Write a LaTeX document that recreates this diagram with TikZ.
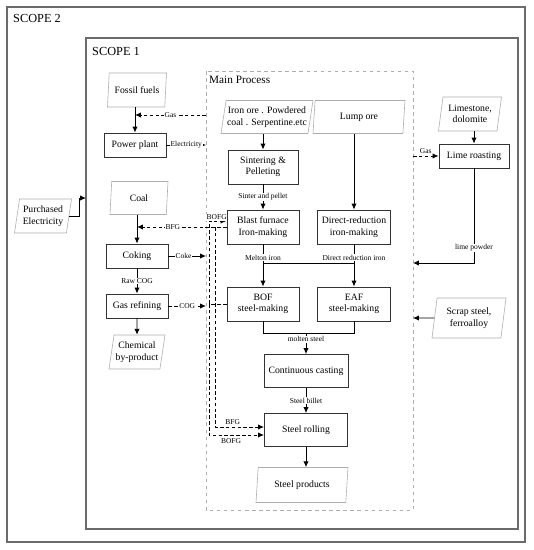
\documentclass[tikz,border=0pt]{standalone}
\usepackage{fontspec}
\setmainfont{Liberation Serif}
\usetikzlibrary{arrows.meta}
\usetikzlibrary{positioning}
\usetikzlibrary{shapes.geometric}
\usetikzlibrary{calc}
\definecolor{sgray}{rgb}{0.42, 0.42, 0.42}
\definecolor{lgray}{rgb}{0.68, 0.68, 0.68}
\definecolor{dgray}{rgb}{0.2, 0.2, 0.2}

\begin{document}
\begin{tikzpicture}[x=0.03cm, y=-0.03cm,
    box/.style={draw=dgray, line width=0.75pt, inner sep=0pt, align=center, font=\fontsize{8.3}{9.8}\selectfont},
    data/.style={trapezium, trapezium left angle=76, trapezium right angle=104, trapezium stretches body,
      draw=lgray, line width=0.5pt, inner sep=0pt, align=center, font=\fontsize{8.3}{9.8}\selectfont},
    lbl/.style={fill=white, inner sep=0.6pt, font=\fontsize{6.4}{7}\selectfont},
    tag/.style={inner sep=1pt, font=\fontsize{6.4}{7}\selectfont},
    flow/.style={line width=0.75pt, -{Latex[length=5pt, width=4.5pt]}},
    gasflow/.style={line width=0.8pt, dash pattern=on 3pt off 2pt, -{Latex[length=5pt, width=4.5pt]}}]
      \useasboundingbox (0, 0) rectangle (534, 550);

      % scopes
      \draw [sgray, line width=1.2pt] (7, 7) rectangle (525, 542);
      \draw [sgray, line width=1.2pt] (86, 38) rectangle (518, 529);
      \draw [lgray, dashed, line width=0.6pt] (206, 71) rectangle (413, 510);
      \node [anchor=west, inner sep=0pt, font=\fontsize{10.5}{12}\selectfont] (scope2) at (13, 18) {SCOPE 2};
      \node [anchor=west, inner sep=0pt, font=\fontsize{10.5}{12}\selectfont] (scope1) at (92, 51) {SCOPE 1};
      \node [anchor=west, inner sep=0pt, font=\fontsize{9.6}{11}\selectfont] (mainlbl) at (209, 80) {Main Process};

      \coordinate (mpW) at (206, 0);
      \coordinate (mpE) at (413, 0);
      \coordinate (busA) at (0, 263);
      \coordinate (busB) at (0, 333);
      \coordinate (bfgX) at (215, 0);
      \coordinate (bofgX) at (209, 0);
      \coordinate (gasA) at (206, 115);
      \coordinate (s1in) at (86, 198);

      % left column
      \node [data, minimum width=1.77cm, minimum height=1.02cm] (fossil) at (137, 90) {Fossil fuels};
      \node [box, minimum width=1.86cm, minimum height=0.72cm] (power) at (135, 145) {Power plant};
      \node [data, minimum width=1.74cm, minimum height=0.99cm] (coal) at (139, 198) {Coal};
      \node [box, minimum width=1.86cm, minimum height=0.72cm] (coking) at (137, 256) {Coking};
      \node [box, minimum width=1.86cm, minimum height=0.72cm] (gasref) at (137, 306) {Gas refining};
      \node [data, minimum width=1.68cm, minimum height=1.02cm] (chem) at (137, 352) {Chemical\\by-product};
      \node [data, minimum width=1.71cm, minimum height=1.02cm] (purch) at (43, 216) {Purchased\\Electricity};

      % main process
      \node [data, minimum width=2.76cm, minimum height=0.99cm] (iron) at (267, 117) {Iron ore . Powdered\\coal . Serpentine.etc};
      \node [data, minimum width=2.76cm, minimum height=0.99cm] (lump) at (359, 117) {Lump ore};
      \node [box, minimum width=2.1cm, minimum height=1.02cm] (sinter) at (263, 167) {Sintering \&\\Pelleting};
      \node [box, minimum width=2.16cm, minimum height=1.02cm] (bf) at (263, 227) {Blast furnace\\Iron-making};
      \node [box, minimum width=2.19cm, minimum height=1.02cm] (dr) at (354, 227) {Direct-reduction\\iron-making};
      \node [box, minimum width=2.16cm, minimum height=1.02cm] (bof) at (263, 304) {BOF\\steel-making};
      \node [box, minimum width=2.19cm, minimum height=1.02cm] (eaf) at (354, 304) {EAF\\steel-making};
      \node [box, minimum width=2.52cm, minimum height=0.99cm] (cast) at (306, 371) {Continuous casting};
      \node [box, minimum width=2.49cm, minimum height=0.99cm] (roll) at (306, 430) {Steel rolling};
      \node [data, minimum width=2.76cm, minimum height=1.05cm] (prod) at (302, 485) {Steel products};

      % right column
      \node [data, minimum width=1.89cm, minimum height=1.02cm] (limestone) at (470, 114) {Limestone,\\dolomite};
      \node [box, minimum width=2.1cm, minimum height=0.72cm] (lime) at (474, 156) {Lime roasting};
      \node [data, minimum width=2.22cm, minimum height=1.2cm] (scrap) at (469, 318) {Scrap steel,\\ferroalloy};

      % left column flows
      \draw [flow] (fossil.south -| power) -- (power);
      \draw [gasflow] (gasA) -- node [lbl] {Gas} (gasA -| power);
      \draw [flow] (power) -- node [lbl] {Electricity} (power -| mpW);
      \draw [flow] (coal.south -| coking) -- (coking);
      \draw [flow] (coking) -- node [lbl, pos=0.4] {Coke} (coking -| mpW);
      \draw [flow] (coking) -- node [lbl] {Raw COG} (gasref);
      \draw [gasflow] (gasref) -- node [lbl] {COG} (gasref -| mpW);
      \draw [flow] (gasref) -- (chem);
      \draw [flow] (purch.east) -- ++(10, 0) |- (s1in);

      % main process flows
      \draw [flow] (iron.south -| sinter) -- (sinter);
      \draw [flow] (sinter) -- node [lbl] {Sinter and pellet} (bf);
      \draw [flow] (lump.south -| dr) -- (dr);
      \draw [line width=0.75pt] (bf) -- node [lbl, pos=0.7] {Melton iron} (bf |- busA) -- (dr |- busA);
      \draw [line width=0.75pt] (dr) -- node [lbl, pos=0.7] {Direct reduction iron} (dr |- busA);
      \draw [flow] (bf |- busA) -- (bof);
      \draw [flow] (dr |- busA) -- (eaf);
      \draw [line width=0.75pt] (bof) -- (bof |- busB) -- (eaf |- busB) -- (eaf);
      \draw [flow] (cast |- busB) -- node [lbl, pos=0.3] {molten steel} (cast);
      \draw [flow] (cast) -- node [lbl] {Steel billet} (roll);
      \draw [flow] (roll) -- (roll |- prod.north);

      % gas recovery
      \draw [gasflow] (bf.west) -- node [lbl, pos=0.6] {BFG} (bf.west -| coking);
      \draw [gasflow] (bf.west -| bfgX) |- node [tag, above=1pt, pos=0.68] {BFG} ($(roll.west) + (0, -3)$);
      \draw [gasflow, -] (bof.west) -- (bof.west -| bofgX);
      \draw [gasflow] (bof.west -| bofgX) |- node [lbl, above, pos=0.72] {BOFG} ($(bf.west) + (0, -6)$);
      \draw [gasflow] (bof.west -| bofgX) |- node [tag, below=2pt, pos=0.7] {BOFG} ($(roll.west) + (0, 5)$);

      % right column flows
      \draw [flow] (limestone.south -| lime) -- (lime);
      \draw [gasflow] (lime -| mpE) -- node [tag, above=1pt] {Gas} (lime);
      \draw [flow] (lime) |- node [lbl, pos=0.42] {lime powder} (busA -| mpE);
      \draw [flow] (scrap) -- (scrap -| mpE);
    \end{tikzpicture}
\end{document}
